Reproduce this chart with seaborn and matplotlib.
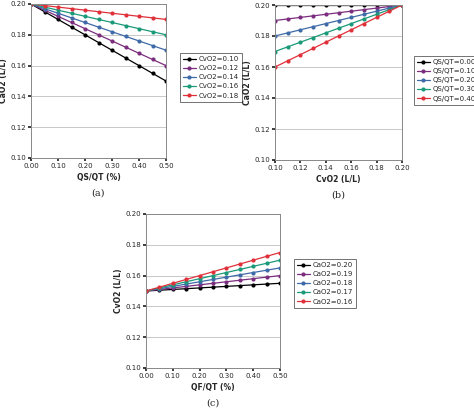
import matplotlib
matplotlib.use("Agg")
import matplotlib.pyplot as plt
import seaborn as sns
import pandas as pd

sns.set_theme(style="white")
plt.rcParams['font.family'] = ['DejaVu Sans']

qs_x = [0.00, 0.05, 0.10, 0.15, 0.20, 0.25, 0.30, 0.35, 0.40, 0.45, 0.50]
a_labels = ["CvO2=0.10", "CvO2=0.12", "CvO2=0.14", "CvO2=0.16", "CvO2=0.18"]
a_vals = [
    [0.200, 0.195, 0.190, 0.185, 0.180, 0.175, 0.170, 0.165, 0.160, 0.155, 0.150],
    [0.200, 0.196, 0.192, 0.188, 0.184, 0.180, 0.176, 0.172, 0.168, 0.164, 0.160],
    [0.200, 0.197, 0.194, 0.191, 0.188, 0.185, 0.182, 0.179, 0.176, 0.173, 0.170],
    [0.200, 0.198, 0.196, 0.194, 0.192, 0.190, 0.188, 0.186, 0.184, 0.182, 0.180],
    [0.200, 0.199, 0.198, 0.197, 0.196, 0.195, 0.194, 0.193, 0.192, 0.191, 0.190],
]
cv_x = [0.10, 0.11, 0.12, 0.13, 0.14, 0.15, 0.16, 0.17, 0.18, 0.19, 0.20]
b_labels = ["QS/QT=0.00", "QS/QT=0.10", "QS/QT=0.20", "QS/QT=0.30", "QS/QT=0.40"]
b_vals = [
    [0.200] * 11,
    [0.190, 0.191, 0.192, 0.193, 0.194, 0.195, 0.196, 0.197, 0.198, 0.199, 0.200],
    [0.180, 0.182, 0.184, 0.186, 0.188, 0.190, 0.192, 0.194, 0.196, 0.198, 0.200],
    [0.170, 0.173, 0.176, 0.179, 0.182, 0.185, 0.188, 0.191, 0.194, 0.197, 0.200],
    [0.160, 0.164, 0.168, 0.172, 0.176, 0.180, 0.184, 0.188, 0.192, 0.196, 0.200],
]
c_labels = ["CaO2=0.20", "CaO2=0.19", "CaO2=0.18", "CaO2=0.17", "CaO2=0.16"]
c_vals = [
    [0.1500, 0.1505, 0.1510, 0.1515, 0.1520, 0.1525, 0.1530, 0.1535, 0.1540, 0.1545, 0.1550],
    [0.1500, 0.1510, 0.1520, 0.1530, 0.1540, 0.1550, 0.1560, 0.1570, 0.1580, 0.1590, 0.1600],
    [0.1500, 0.1515, 0.1530, 0.1545, 0.1560, 0.1575, 0.1590, 0.1605, 0.1620, 0.1635, 0.1650],
    [0.1500, 0.1520, 0.1540, 0.1560, 0.1580, 0.1600, 0.1620, 0.1640, 0.1660, 0.1680, 0.1700],
    [0.1500, 0.1525, 0.1550, 0.1575, 0.1600, 0.1625, 0.1650, 0.1675, 0.1700, 0.1725, 0.1750],
]
colors = ["#000000", "#7b2d7e", "#3e6aa8", "#1a9a78", "#e0303a"]

W, H = 474, 409
fig = plt.figure(figsize=(W / 100, H / 100), dpi=100)

def box(l, t, r, b):
    return [l / W, 1 - b / H, (r - l) / W, (b - t) / H]

def panel(rect, x, labels, vals, xlabel, ylabel, xticks, xlim, leg_anchor, cap, cap_y):
    ax = fig.add_axes(box(*rect))
    rows = []
    for lab, v in zip(labels, vals):
        for xi, yi in zip(x, v):
            rows.append({"x": xi, "y": yi, "s": lab})
    df = pd.DataFrame(rows)
    sns.lineplot(data=df, x="x", y="y", hue="s", palette=colors, marker="o",
                 markersize=3, markeredgewidth=0, linewidth=0.9, ax=ax)
    ax.set_xlim(*xlim)
    ax.set_ylim(0.10, 0.20)
    ax.set_xticks(xticks)
    ax.set_xticklabels([f"{t:.2f}" for t in xticks])
    ax.set_yticks([0.10, 0.12, 0.14, 0.16, 0.18, 0.20])
    ax.set_yticklabels(["0.10", "0.12", "0.14", "0.16", "0.18", "0.20"])
    ax.tick_params(labelsize=5, length=2, pad=1.5, direction="out", bottom=True, left=True)
    ax.yaxis.grid(True, color="#c8c8c8", linewidth=0.7)
    for s in ax.spines.values():
        s.set_color("#888888"); s.set_linewidth(0.7)
    ax.set_xlabel(xlabel, fontsize=5.5, fontweight="bold", labelpad=3)
    ax.set_ylabel(ylabel, fontsize=5.5, fontweight="bold", labelpad=1.5)
    leg = ax.legend(loc="upper left", bbox_to_anchor=leg_anchor, fontsize=5,
                    frameon=True, fancybox=False, handlelength=1.8, handletextpad=0.4,
                    borderpad=0.45, borderaxespad=0, labelspacing=0.45,
                    bbox_transform=fig.transFigure)
    leg.get_frame().set_edgecolor("#333333"); leg.get_frame().set_linewidth(0.6)
    fig.text((rect[0] + rect[2]) / 2 / W, 1 - cap_y / H, cap, ha="center", va="center",
             fontsize=7, family="DejaVu Serif")
    return ax

panel((31, 4, 166, 158), qs_x, a_labels, a_vals, "QS/QT (%)", "CaO2 (L/L)",
      [0, 0.1, 0.2, 0.3, 0.4, 0.5], (0, 0.5), (180 / W, 1 - 53 / H), "(a)", 193)
panel((275, 5, 402, 160), cv_x, b_labels, b_vals, "CvO2 (L/L)", "CaO2 (L/L)",
      [0.10, 0.12, 0.14, 0.16, 0.18, 0.20], (0.10, 0.20), (414 / W, 1 - 56 / H), "(b)", 195)
panel((146, 214, 280, 368), qs_x, c_labels, c_vals, "QF/QT (%)", "CvO2 (L/L)",
      [0, 0.1, 0.2, 0.3, 0.4, 0.5], (0, 0.5), (294 / W, 1 - 259 / H), "(c)", 403)

fig.savefig("out.png", dpi=100)
